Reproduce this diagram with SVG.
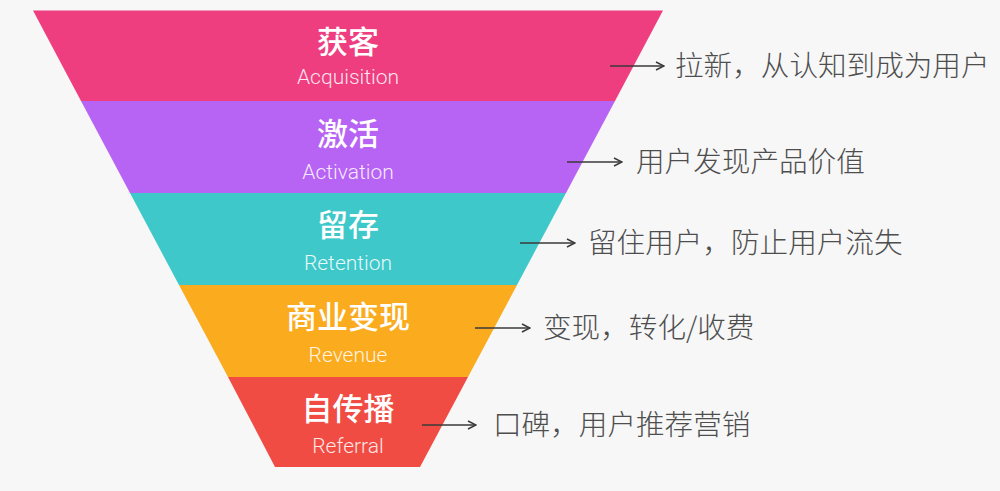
<svg xmlns="http://www.w3.org/2000/svg" width="1000" height="491" viewBox="0 0 1000 491">
<defs>
<style>
.t{font-family:"Noto Sans CJK SC","Noto Sans",sans-serif;font-size:31px;font-weight:500;fill:#ffffff;text-anchor:middle}
.e{font-family:Roboto,"Liberation Sans",sans-serif;font-size:21px;font-weight:300;fill:#ffffff;fill-opacity:0.88;text-anchor:middle}
.d{font-family:"Noto Sans CJK SC","Noto Sans",sans-serif;font-size:28.6px;font-weight:300;fill:#4e4e4e}
.c{stroke:#3a3a3a;stroke-width:1.6;fill:none}
</style>
<marker id="ah" viewBox="0 0 10 10" refX="9" refY="5" markerWidth="10" markerHeight="10" markerUnits="userSpaceOnUse" orient="auto">
<path d="M1,1 L9,5 L1,9" fill="none" stroke="#3a3a3a" stroke-width="1.5"/>
</marker>
</defs>
<rect width="1000" height="491" fill="#f7f7f7"/>
<g id="acquisition">
<polygon points="33,10.5 663,10.5 615,101 81,101" fill="#ee3e80"/>
<text class="t" x="348" y="53">获客</text>
<text class="e" x="348" y="84">Acquisition</text>
</g>
<g id="activation">
<polygon points="81,101 615,101 566,193 130,193" fill="#b764f4"/>
<text class="t" x="348" y="145">激活</text>
<text class="e" x="348" y="179">Activation</text>
</g>
<g id="retention">
<polygon points="130,193 566,193 517,285 179,285" fill="#3fc8ca"/>
<text class="t" x="348" y="236">留存</text>
<text class="e" x="348" y="270">Retention</text>
</g>
<g id="revenue">
<polygon points="179,285 517,285 468,377 228,377" fill="#fbab1e"/>
<text class="t" x="348" y="328">商业变现</text>
<text class="e" x="348" y="362">Revenue</text>
</g>
<g id="referral">
<polygon points="228,377 468,377 420,467 275,467" fill="#f04c44"/>
<text class="t" x="348" y="420">自传播</text>
<text class="e" x="348" y="453">Referral</text>
</g>
<g id="connectors">
<line class="c" x1="610" y1="66" x2="664" y2="66" marker-end="url(#ah)"/>
<line class="c" x1="567" y1="162" x2="622" y2="162" marker-end="url(#ah)"/>
<line class="c" x1="520" y1="243" x2="575" y2="243" marker-end="url(#ah)"/>
<line class="c" x1="475" y1="328" x2="530" y2="328" marker-end="url(#ah)"/>
<line class="c" x1="422" y1="425" x2="476" y2="425" marker-end="url(#ah)"/>
</g>
<g id="descriptions">
<text class="d" x="675" y="76">拉新，从认知到成为用户</text>
<text class="d" x="636" y="172">用户发现产品价值</text>
<text class="d" x="588" y="253">留住用户，防止用户流失</text>
<text class="d" x="543" y="338">变现，转化/收费</text>
<text class="d" x="493" y="435">口碑，用户推荐营销</text>
</g>
</svg>
